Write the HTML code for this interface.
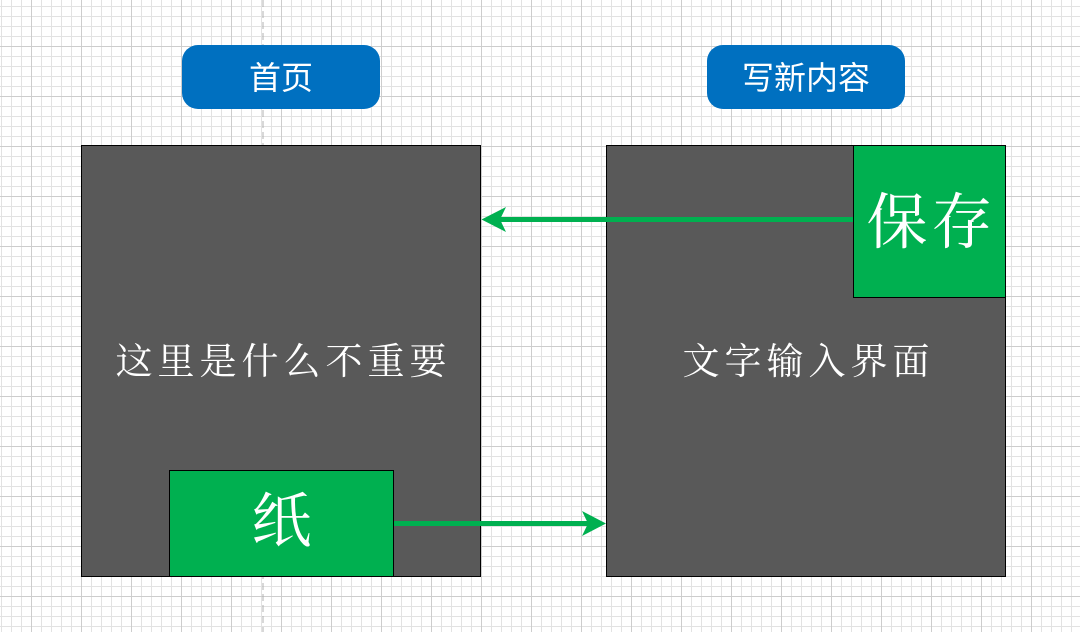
<!DOCTYPE html>
<html>
<head>
<meta charset="utf-8">
<style>
  html,body{margin:0;padding:0;}
  body{width:1080px;height:632px;position:relative;overflow:hidden;background:#fff;}
  svg{position:absolute;left:0;top:0;}
  .t{position:absolute;display:flex;align-items:center;justify-content:center;color:#fff;white-space:nowrap;}
  .sans{font-family:"Liberation Sans","Noto Sans CJK SC",sans-serif;}
  .serif{font-family:"Liberation Serif","Noto Serif CJK SC",serif;}
</style>
</head>
<body>
<svg width="1080" height="632" viewBox="0 0 1080 632" xmlns="http://www.w3.org/2000/svg">
  <defs>
    <pattern id="minor" x="1" y="6" width="10" height="10" patternUnits="userSpaceOnUse">
      <path d="M0.5 0 V10 M0 0.5 H10" stroke="#e2e2e2" stroke-width="1" fill="none"/>
    </pattern>
    <pattern id="major" x="31" y="46" width="50" height="50" patternUnits="userSpaceOnUse">
      <path d="M0.5 0 V50 M0 0.5 H50" stroke="#cdcdcd" stroke-width="1" fill="none"/>
    </pattern>
  </defs>
  <rect x="0" y="0" width="1080" height="632" fill="#fff"/>
  <rect x="0" y="0" width="1080" height="632" fill="url(#minor)"/>
  <rect x="0" y="0" width="1080" height="632" fill="url(#major)"/>
  <!-- dashed guide -->
  <line x1="263" y1="0" x2="263" y2="632" stroke="#b0b0b0" stroke-width="1" stroke-dasharray="7,4"/>

  <!-- header pills -->
  <rect x="182" y="45" width="198" height="64" rx="16" ry="16" fill="#0070c0"/>
  <rect x="707" y="45" width="198" height="64" rx="16" ry="16" fill="#0070c0"/>

  <!-- left dark box -->
  <rect x="81.5" y="145.5" width="399" height="431" fill="#595959" stroke="#000" stroke-width="1"/>
  <!-- right dark box -->
  <rect x="606.5" y="145.5" width="399" height="431" fill="#595959" stroke="#000" stroke-width="1"/>

  <!-- green 纸 box -->
  <rect x="169.5" y="470.5" width="224" height="106" fill="#00b050" stroke="#000" stroke-width="1"/>
  <!-- green 保存 box -->
  <rect x="853.5" y="145.5" width="152" height="152" fill="#00b050" stroke="#000" stroke-width="1"/>

  <!-- arrow 纸 -> right box -->
  <line x1="394" y1="523.5" x2="590" y2="523.5" stroke="#00b050" stroke-width="5"/>
  <polygon points="606,523.5 582,511 588,523.5 582,536" fill="#00b050"/>

  <!-- arrow 保存 -> left box -->
  <line x1="853" y1="219.5" x2="496" y2="219.5" stroke="#00b050" stroke-width="5"/>
  <polygon points="481.5,219.5 506,207 500,219.5 506,232" fill="#00b050"/>
</svg>

<div class="t sans" style="left:182px;top:44px;width:198px;height:64px;font-size:32px;">首页</div>
<div class="t sans" style="left:707px;top:44px;width:198px;height:64px;font-size:32px;">写新内容</div>

<div class="t serif" style="left:81px;top:328px;width:400px;height:60px;font-size:37px;letter-spacing:5px;padding-left:5px;box-sizing:border-box;">这里是什么不重要</div>
<div class="t serif" style="left:606px;top:328px;width:400px;height:60px;font-size:37px;letter-spacing:5px;padding-left:5px;box-sizing:border-box;">文字输入界面</div>

<div class="t serif" style="left:853px;top:177px;width:153px;height:80px;font-size:61px;letter-spacing:4px;padding-left:4px;box-sizing:border-box;">保存</div>
<div class="t serif" style="left:169px;top:479px;width:225px;height:76px;font-size:60px;">纸</div>
</body>
</html>
